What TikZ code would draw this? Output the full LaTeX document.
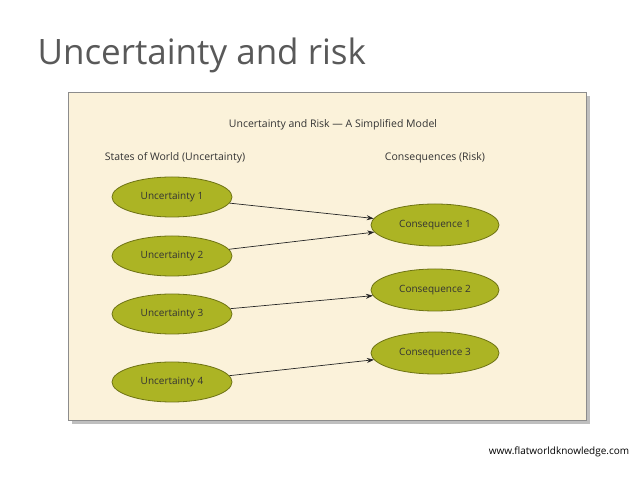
\documentclass[tikz,border=0pt]{standalone}
\usepackage{fontspec}
\setmainfont{Open Sans}
\usetikzlibrary{shapes.geometric,arrows.meta}
\definecolor{panel}{RGB}{251,242,218}
\definecolor{olive}{RGB}{172,180,36}
\definecolor{olived}{RGB}{110,115,20}
\tikzset{
 ell/.style={ellipse,draw=olived,line width=0.8pt,fill=olive,minimum width=#1,minimum height=40pt,inner sep=0pt,font=\fontsize{10}{11}\selectfont,text=black!80},
 arr/.style={-{Stealth[length=7pt,width=5pt]},line width=0.7pt,black!85},
 lbl/.style={font=\fontsize{10.5}{12}\selectfont,text=black!80}
}
\begin{document}
\begin{tikzpicture}[x=1pt,y=-1pt]
\useasboundingbox (0,0) rectangle (638,478);
\node[anchor=west,font=\fontsize{35}{38}\selectfont,text=black!65] (title) at (34,55) {Uncertainty and risk};
\fill[black!25] (72,96) rectangle (590,424);
\draw[black!45,fill=panel,line width=0.6pt] (68,92) rectangle (586,420);
\node[lbl] (t) at (333,125) {Uncertainty and Risk — A Simplified Model};
\node[lbl] (sw) at (175,158) {States of World (Uncertainty)};
\node[lbl] (cr) at (435,158) {Consequences (Risk)};
\node[ell=120pt] (u1) at (172,197) {Uncertainty 1};
\node[ell=120pt] (u2) at (172,256) {Uncertainty 2};
\node[ell=120pt] (u3) at (172,314) {Uncertainty 3};
\node[ell=120pt] (u4) at (172,382) {Uncertainty 4};
\node[ell=128pt,minimum height=42pt] (c1) at (435,225) {Consequence 1};
\node[ell=128pt,minimum height=42pt] (c2) at (435,290) {Consequence 2};
\node[ell=128pt,minimum height=42pt] (c3) at (435,353) {Consequence 3};
\draw[arr] (u1) -- (c1);
\draw[arr] (u2) -- (c1);
\draw[arr] (u3) -- (c2);
\draw[arr] (u4) -- (c3);
\node[font=\fontsize{10}{12}\selectfont] (w) at (559,452) {www.flatworldknowledge.com};
\end{tikzpicture}
\end{document}
